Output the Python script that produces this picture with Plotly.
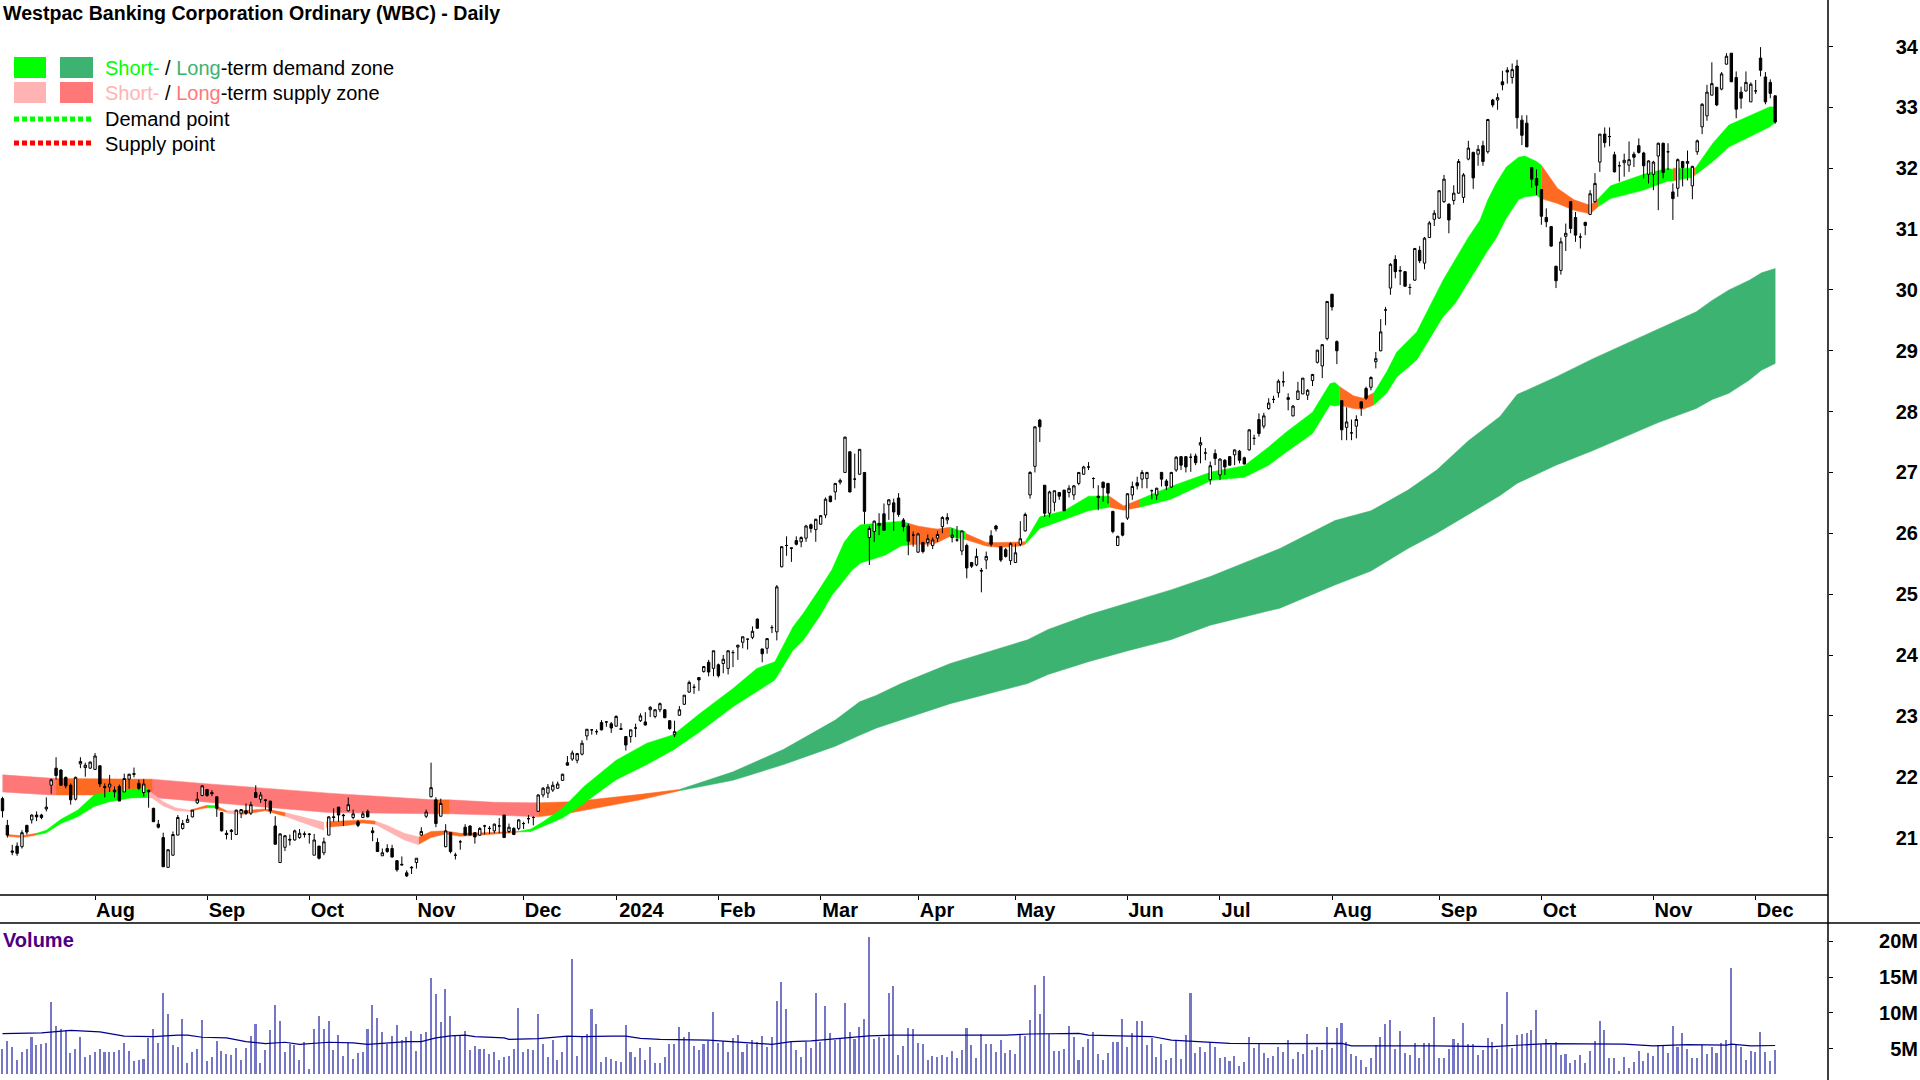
import plotly.graph_objects as go

# ── PRICE DATA (open, high, low, close) ───────────────────────────────────────
candles_jul_oct_23 = [
    (21.64,21.67,21.33,21.44),(21.2,21.29,21.0,21.04),(20.78,20.88,20.71,20.76),(20.86,20.92,20.7,20.74),
    (20.85,21.12,20.82,21.08),(21.2,21.21,21.05,21.09),(21.29,21.38,21.23,21.37),(21.37,21.43,21.27,21.34),
    (21.37,21.39,21.3,21.33),(21.47,21.66,21.43,21.5),(21.86,21.97,21.72,21.95),(22.14,22.32,21.95,22.02),
    (22.11,22.12,21.85,21.86),(21.99,22.0,21.81,21.85),(21.86,21.89,21.54,21.62),(21.63,22.0,21.61,21.99),
    (22.21,22.32,22.14,22.25),(22.15,22.23,22.0,22.19),(22.14,22.25,22.13,22.24),(22.12,22.39,22.11,22.34),
    (22.18,22.18,21.83,21.88),(21.84,21.89,21.66,21.82),(21.83,22.03,21.75,21.88),(21.78,21.84,21.66,21.75),
    (21.84,21.87,21.6,21.6),(21.75,22.05,21.75,21.97),(21.96,22.05,21.8,22.04),(22.05,22.15,21.99,22.04),
    (21.89,21.95,21.78,21.81),(21.74,21.96,21.67,21.88),(21.78,21.78,21.49,21.75),(21.48,21.49,21.26,21.26),
    (21.22,21.29,21.15,21.17),(21.0,21.08,20.52,20.52),(20.51,20.8,20.51,20.8),(20.71,21.1,20.7,21.05),
    (21.04,21.37,21.04,21.33),(21.15,21.29,21.13,21.23),(21.25,21.37,21.24,21.3),(21.34,21.45,21.33,21.45),
    (21.57,21.75,21.55,21.63),(21.69,21.86,21.68,21.85),(21.79,21.79,21.67,21.69),(21.74,21.78,21.68,21.72),
    (21.67,21.67,21.34,21.48),(21.41,21.41,21.1,21.11),(21.07,21.12,20.97,21.05),(21.12,21.14,20.96,21.1),
    (21.05,21.46,21.05,21.45),(21.4,21.47,21.32,21.46),(21.44,21.56,21.37,21.4),(21.4,21.59,21.37,21.54),
    (21.74,21.86,21.66,21.66),(21.63,21.75,21.57,21.7),(21.62,21.63,21.46,21.61),(21.6,21.6,21.39,21.44),
    (21.19,21.35,20.89,20.89),(20.59,21.07,20.59,21.06),(20.84,21.04,20.78,21.03),(20.97,21.05,20.87,20.96),
    (20.96,21.13,20.95,21.11),(21.0,21.14,20.98,21.07),(21.05,21.1,21.0,21.06),(21.06,21.07,20.9,21.05),
    (20.71,21.06,20.71,20.96),(20.86,20.86,20.64,20.66),(20.75,21.0,20.71,20.93),(21.04,21.35,21.04,21.34),
    (21.34,21.48,21.26,21.33),(21.5,21.5,21.26,21.37),(21.37,21.39,21.19,21.36),(21.44,21.66,21.43,21.54),
    (21.33,21.46,21.3,21.39),(21.26,21.29,21.17,21.2),(21.33,21.43,21.32,21.39),(21.43,21.46,21.33,21.34),
    (21.11,21.17,20.94,21.08),(20.92,20.99,20.77,20.77),(20.7,20.82,20.7,20.75),(20.82,20.89,20.75,20.77),
    (20.82,20.88,20.67,20.68),(20.62,20.63,20.44,20.47),(20.56,20.69,20.55,20.55),(20.42,20.46,20.35,20.37),
]
candles_nov_23_feb_24 = [
    (20.5,20.53,20.4,20.51),(20.59,20.66,20.49,20.66),(21.04,21.17,21.03,21.1),(21.35,21.46,21.32,21.42),
    (21.67,22.23,21.66,21.82),(21.62,21.66,21.17,21.23),(21.35,21.64,21.35,21.56),(20.85,21.22,20.84,21.11),
    (21.08,21.08,20.74,20.77),(20.71,20.75,20.64,20.71),(20.93,20.96,20.8,20.93),(21.17,21.22,21.04,21.04),
    (21.19,21.2,21.04,21.04),(21.08,21.08,20.9,21.01),(21.04,21.17,21.03,21.15),(21.19,21.21,21.05,21.19),
    (21.15,21.19,21.06,21.15),(21.11,21.23,21.07,21.22),(21.19,21.32,21.07,21.19),(21.37,21.37,21.0,21.0),
    (21.1,21.23,21.07,21.17),(21.15,21.17,21.04,21.05),(21.15,21.3,21.12,21.29),(21.23,21.26,21.14,21.23),
    (21.31,21.37,21.23,21.31),(21.33,21.35,21.2,21.33),(21.43,21.71,21.42,21.7),(21.7,21.83,21.66,21.81),
    (21.73,21.88,21.65,21.83),(21.78,21.92,21.75,21.86),(21.81,21.92,21.8,21.88),(21.94,22.05,21.93,22.04),
    (22.23,22.34,22.18,22.19),(22.29,22.43,22.26,22.39),(22.27,22.39,22.22,22.38),(22.37,22.6,22.35,22.55),
    (22.67,22.78,22.6,22.78),(22.77,22.78,22.69,22.77),(22.74,22.78,22.69,22.74),(22.89,22.93,22.76,22.77),
    (22.9,22.91,22.82,22.9),(22.87,22.9,22.72,22.8),(22.83,23.01,22.82,22.99),(22.79,22.88,22.77,22.78),
    (22.66,22.66,22.43,22.52),(22.66,22.77,22.56,22.77),(22.8,22.87,22.65,22.8),(22.92,23.04,22.9,23.0),
    (22.9,23.06,22.84,22.85),(23.1,23.16,22.98,23.14),(22.99,23.11,22.96,23.1),(23.1,23.22,23.06,23.2),
    (23.1,23.11,22.96,22.97),(22.92,22.93,22.77,22.79),(22.69,22.92,22.65,22.74),(23.01,23.16,23.0,23.1),
    (23.19,23.34,23.18,23.34),(23.39,23.58,23.38,23.55),(23.47,23.52,23.36,23.47),(23.63,23.63,23.41,23.59),
    (23.73,23.82,23.71,23.81),(23.88,23.92,23.65,23.72),(23.78,24.07,23.65,24.07),(23.84,23.86,23.63,23.66),
    (23.86,24.0,23.7,23.93),(23.78,24.07,23.68,24.07),(24.04,24.08,23.8,24.04),(24.13,24.17,23.92,24.16),
    (24.21,24.3,24.11,24.3),(24.26,24.27,24.09,24.26),(24.29,24.47,24.26,24.39),(24.59,24.6,24.43,24.44),
    (24.1,24.1,23.88,24.02),(24.11,24.27,24.02,24.27),(24.45,24.49,24.36,24.45),(24.38,25.15,24.24,25.12),
]
candles_mar_jun_24 = [
    (25.45,25.79,25.44,25.78),(25.8,25.95,25.63,25.8),(25.75,25.76,25.53,25.76),(25.88,25.95,25.8,25.82),
    (25.86,25.95,25.77,25.93),(25.92,26.14,25.86,26.12),(26.14,26.16,26.01,26.08),(26.06,26.24,25.86,26.23),
    (26.15,26.3,26.14,26.29),(26.3,26.59,26.25,26.56),(26.61,26.62,26.51,26.52),(26.68,26.82,26.55,26.82),
    (26.84,26.9,26.8,26.87),(27.0,27.59,27.0,27.58),(27.34,27.34,26.67,26.68),(26.89,27.31,26.74,26.89),
    (26.97,27.38,26.96,27.38),(27.0,27.0,26.15,26.36),(25.93,26.12,25.48,26.08),(26.03,26.21,25.86,26.2),
    (26.16,26.33,25.97,26.13),(26.32,26.49,26.04,26.05),(26.47,26.56,26.22,26.55),(26.5,26.57,26.04,26.35),
    (26.58,26.66,26.27,26.31),(26.22,26.25,26.03,26.11),(26.12,26.16,25.64,25.87),(25.97,26.03,25.78,25.97),
    (25.69,26.01,25.68,25.99),(25.85,25.86,25.67,25.7),(25.85,25.98,25.78,25.91),(25.8,25.93,25.74,25.89),
    (25.92,26.04,25.86,25.98),(26.11,26.28,26.0,26.26),(26.22,26.33,26.15,26.26),(25.93,26.08,25.85,25.97),
    (25.89,26.12,25.86,25.89),(25.71,26.04,25.64,26.04),(25.8,25.83,25.26,25.43),(25.52,25.53,25.43,25.46),
    (25.48,25.75,25.46,25.62),(25.39,25.43,25.03,25.38),(25.56,25.7,25.41,25.62),(25.96,26.05,25.78,25.82),
    (26.12,26.14,26.03,26.07),(25.78,25.79,25.53,25.56),(25.73,25.76,25.6,25.62),(25.55,25.85,25.48,25.83),
    (25.52,25.83,25.51,25.68),(25.82,26.2,25.79,25.91),(26.04,26.34,26.03,26.31),(26.63,27.02,26.57,27.0),
    (27.1,27.75,27.0,27.75),(27.86,27.88,27.5,27.75),(26.79,26.79,26.27,26.33),(26.33,26.7,26.26,26.68),
    (26.51,26.7,26.36,26.7),(26.67,26.68,26.55,26.61),(26.71,26.71,26.37,26.37),(26.67,26.79,26.59,26.74),
    (26.63,26.79,26.55,26.78),(26.82,27.0,26.79,27.0),(26.97,27.11,26.96,27.09),(27.09,27.17,27.04,27.09),
    (26.9,26.92,26.74,26.9),(26.61,26.79,26.38,26.59),(26.84,26.85,26.52,26.75),(26.82,26.82,26.49,26.66),
    (26.36,26.37,26.0,26.03),(25.8,25.96,25.79,25.95),(26.17,26.17,25.95,25.97),(26.25,26.66,26.22,26.65),
    (26.63,26.85,26.55,26.77),(26.83,26.93,26.72,26.78),(26.89,27.04,26.74,27.0),(26.9,27.01,26.74,27.0),
]
candles_jul_sep_24 = [
    (26.7,26.72,26.56,26.7),(26.63,26.75,26.55,26.74),(27.0,27.01,26.77,26.89),(26.86,26.89,26.71,26.78),
    (26.76,27.01,26.75,27.0),(27.04,27.27,27.01,27.25),(27.26,27.27,27.04,27.12),(27.26,27.27,27.0,27.09),
    (27.25,27.31,27.01,27.25),(27.27,27.31,27.12,27.16),(27.45,27.58,27.15,27.49),(27.32,27.4,27.2,27.32),
    (26.88,27.18,26.8,27.11),(27.31,27.38,27.12,27.23),(26.96,27.23,26.88,27.22),(27.2,27.22,26.96,27.09),
    (27.26,27.27,27.11,27.12),(27.29,27.38,27.12,27.37),(27.35,27.37,27.15,27.2),(27.24,27.26,27.13,27.14),
    (27.37,27.71,27.36,27.7),(27.56,27.62,27.45,27.56),(27.87,27.97,27.59,27.64),(27.76,27.98,27.72,27.93),
    (28.05,28.22,28.03,28.14),(28.2,28.26,28.14,28.2),(28.31,28.53,28.23,28.5),(28.49,28.66,28.41,28.49),
    (28.2,28.3,28.02,28.23),(27.93,28.11,27.92,28.09),(28.2,28.49,28.19,28.34),(28.29,28.55,28.29,28.55),
    (28.27,28.37,28.19,28.35),(28.51,28.62,28.42,28.61),(28.81,29.01,28.79,29.01),(28.75,29.11,28.55,29.1),
    (29.2,29.81,29.17,29.81),(29.93,29.93,29.66,29.72),(29.15,29.17,28.78,29.0),(28.18,28.18,27.53,27.7),
    (27.74,28.07,27.53,27.83),(27.65,27.87,27.53,27.65),(27.76,27.94,27.56,27.87),(28.16,28.16,27.93,28.06),
    (28.38,28.41,28.19,28.22),(28.4,28.58,28.35,28.56),(28.82,28.98,28.71,28.87),(29.0,29.52,28.99,29.31),
    (29.67,29.72,29.42,29.67),(30.03,30.44,29.92,30.42),(30.5,30.57,30.19,30.3),(30.32,30.39,30.08,30.31),
    (30.3,30.31,30.06,30.06),(30.04,30.1,29.92,30.04),(30.16,30.69,30.15,30.68),(30.65,30.72,30.44,30.48),
    (30.44,30.87,30.34,30.85),(30.86,31.13,30.86,31.1),(31.16,31.31,31.05,31.26),(31.18,31.64,31.17,31.63),
    (31.45,31.89,31.43,31.82),(31.41,31.42,30.93,31.15),(31.47,31.72,31.4,31.59),(31.59,32.15,31.58,32.11),
    (31.52,31.92,31.43,31.89),(32.15,32.45,32.13,32.33),(32.26,32.27,31.66,31.84),(32.23,32.38,32.04,32.31),
    (32.37,32.45,32.04,32.11),(32.27,32.81,32.24,32.8),(33.12,33.14,33.0,33.04),(33.12,33.23,32.96,33.16),
    (33.42,33.6,33.28,33.37),(33.61,33.66,33.39,33.58),(33.49,33.72,33.39,33.62),(33.68,33.78,32.65,32.83),
]
candles_oct_dec_24 = [
    (32.79,32.87,32.38,32.54),(32.74,32.87,32.35,32.35),(32.01,32.01,31.68,31.82),(31.83,31.98,31.56,31.72),
    (31.65,31.65,31.07,31.21),(31.19,31.34,31.03,31.12),(31.04,31.05,30.71,30.72),(30.39,30.39,30.03,30.15),
    (30.32,30.86,30.25,30.79),(30.88,31.09,30.64,30.93),(31.45,31.45,30.93,31.01),(31.19,31.28,30.79,30.9),
    (30.87,30.93,30.68,30.87),(31.11,31.12,30.9,31.06),(31.24,31.64,31.23,31.58),(31.45,31.92,31.43,31.75),
    (32.1,32.56,31.94,32.56),(32.56,32.67,32.34,32.42),(32.52,32.67,32.36,32.52),(32.22,32.27,31.93,31.94),
    (32.04,32.11,31.78,32.04),(32.09,32.24,31.86,32.13),(32.05,32.44,31.94,32.14),(32.23,32.27,32.02,32.18),
    (32.37,32.49,32.24,32.26),(32.25,32.27,31.83,32.04),(31.9,32.13,31.75,32.12),(31.9,32.12,31.64,32.1),
    (32.2,32.42,31.31,32.41),(32.41,32.42,31.83,31.93),(32.27,32.41,31.97,32.27),(31.61,31.75,31.15,31.5),
    (31.67,32.16,31.53,32.14),(32.11,32.12,31.7,32.01),(32.08,32.29,31.8,32.11),(31.71,32.04,31.49,32.03),
    (32.27,32.47,32.22,32.45),(32.68,33.07,32.56,33.05),(32.86,33.37,32.78,33.25),(33.2,33.74,33.2,33.39),
    (33.33,33.33,33.02,33.04),(33.3,33.58,33.28,33.55),(33.71,33.89,33.7,33.84),(33.89,33.89,33.42,33.42),
    (33.49,33.59,32.82,32.97),(33.25,33.34,32.98,33.15),(33.27,33.59,33.26,33.41),(33.09,33.41,33.09,33.38),
    (33.27,33.45,33.22,33.27),(33.81,33.99,33.51,33.61),(33.5,33.58,33.05,33.09),(33.41,33.46,33.15,33.23),
    (33.19,33.19,32.73,32.76),
]

# ── VOLUME, in millions ───────────────────────────────────────────────────────
volume_23 = [
    4.9,6.1,5.3,3.4,4.6,4.9,6.6,5.5,5.7,5.8,11.5,8.2,7.8,7.6,4.4,4.9,6.6,3.9,4.1,4.5,4.9,4.5,4.5,4.5,4.8,5.8,4.7,3.3,3.4,3.5,
    6.5,7.7,5.8,12.8,9.8,5.5,5.3,9.1,3.0,4.6,4.9,9.0,3.3,3.9,6.1,4.7,4.3,4.1,5.1,3.4,5.1,6.8,8.5,3.0,4.8,7.6,11.1,8.8,4.5,5.7,
    5.5,3.4,6.0,2.2,7.7,9.5,7.7,8.8,4.8,6.9,4.0,5.8,3.5,4.4,4.6,7.8,11.1,9.3,7.3,5.6,6.8,8.3,6.2,6.6,7.5,4.7,7.0,7.3,14.9,12.6,
    8.7,13.3,9.5,6.9,6.9,7.5,4.8,5.4,4.9,4.9,4.3,4.5,3.4,3.9,4.0,4.9,10.7,4.6,4.9,4.8,9.8,5.6,3.9,6.2,3.4,4.5,6.8,17.5,4.0,6.8,
    7.1,10.5,8.4,3.1,3.8,3.6,3.3,3.2,8.3,4.5,3.9,
]
volume_24a = [
    5.1,3.4,5.2,3.0,2.95,3.8,5.7,5.7,8.0,6.6,7.3,5.4,4.8,5.7,6.1,10.1,5.8,6.1,4.5,6.5,6.9,4.5,5.7,6.2,6.0,6.8,5.2,6.6,11.7,14.3,
    10.5,5.9,4.8,3.8,5.9,5.1,12.8,5.9,11.0,7.2,6.2,6.3,11.4,7.3,6.3,8.0,9.2,20.6,6.3,6.7,6.5,12.8,13.8,4.1,5.4,7.9,7.7,5.8,5.7,3.4,
    4.0,3.8,4.1,3.8,4.7,3.7,4.8,7.9,5.5,3.7,7.0,5.7,5.7,4.5,6.2,4.4,4.8,4.3,6.9,6.8,9.0,13.9,9.9,15.2,7.1,4.7,4.7,5.0,8.2,6.6,
    3.4,5.2,6.3,7.3,4.3,3.4,4.4,5.9,5.9,9.2,5.2,7.2,8.9,8.9,5.5,6.5,3.8,5.7,3.4,3.7,6.1,3.6,6.9,12.8,4.4,5.2,4.5,5.9,5.2,3.7,
    3.8,3.3,4.0,2.6,3.1,6.6,5.1,5.7,4.4,3.7,4.0,5.2,
]
volume_24b = [
    4.5,6.2,3.6,4.5,4.3,7.0,4.8,5.2,4.8,8.0,5.1,7.9,8.6,5.9,4.3,4.0,3.4,2.4,3.7,5.5,6.6,8.4,9.0,5.0,7.5,4.4,4.1,5.8,3.7,5.8,
    5.8,9.4,3.7,3.7,5.0,6.3,5.8,8.6,5.7,5.7,4.1,4.8,6.5,5.9,5.0,8.4,12.9,5.1,6.9,7.0,7.2,7.6,10.4,5.7,6.3,5.5,5.9,4.1,4.3,3.0,
    3.4,4.1,3.0,4.7,6.1,8.9,7.6,3.7,3.7,1.9,3.8,2.3,3.1,4.7,3.3,4.4,4.0,5.5,5.5,4.4,8.2,5.2,7.2,5.0,3.7,3.7,5.5,4.3,5.2,4.4,
    5.8,6.2,16.3,5.7,5.2,3.4,4.7,4.5,7.3,4.5,3.3,4.8,
]
vol_avg_x = [0,5,8,14,20,25,31,36,38,41,46,50,54,58,61,67,72,75,83,86,89,92,95,97,103,104,107,110,116,119,125,128,131,
             135,145,158,162,166,178,183,206,211,221,223,236,240,252,262,275,277,294,306,317,333,339,346,354,355,359,364]
vol_avg = [7.1,7.15,7.2,7.55,7.35,6.75,6.7,6.9,6.9,6.6,6.5,6.0,5.7,5.9,5.6,5.9,5.8,5.6,6.0,6.0,6.5,6.8,6.9,6.7,6.5,6.3,6.4,6.4,6.75,6.7,6.75,6.75,6.45,
           6.3,6.2,5.6,6.0,6.1,6.8,6.9,6.9,7.05,7.15,6.9,6.7,6.2,5.75,5.7,5.75,5.4,5.4,5.3,5.7,5.65,5.4,5.56,5.5,5.65,5.4,5.45]

# ── ZONES: (x, top, bottom) ───────────────────────────────────────────────────
long_supply = [
    ([0,10,11], [22.03,21.98,21.97], [21.75,21.7,21.7]),
    ([30.7,41,67,88.4], [21.96,21.89,21.73,21.62], [21.66,21.59,21.41,21.39]),
    ([91.7,101,110], [21.62,21.58,21.57], [21.39,21.37,21.34]),
]
long_mixed = [
    ([11,20,30.7], [21.97,21.97,21.96], [21.7,21.7,21.66]),
    ([88.4,91.7], [21.62,21.62], [21.39,21.39]),
    ([110,117,131,139], [21.57,21.59,21.71,21.79], [21.34,21.41,21.62,21.77]),
]
long_demand = [
    ([139,150,160.4,171,176,179.5,184.5,194.6,210.5,214.7,223,231.5,239.9,248,262.3,273.6,281,288.6,294.5,301,307.5,311,319,326.6,340,347.8,351.1,354.5,358.7,361.2,364],
     [21.79,22.08,22.45,22.93,23.23,23.34,23.53,23.86,24.25,24.42,24.66,24.86,25.07,25.29,25.75,26.21,26.37,26.71,27.04,27.52,27.92,28.28,28.57,28.87,29.36,29.64,29.83,30.0,30.16,30.28,30.35],
     [21.77,21.94,22.2,22.5,22.68,22.8,22.93,23.2,23.53,23.68,23.89,24.08,24.25,24.49,24.77,25.15,25.38,25.75,26.0,26.31,26.62,26.82,27.12,27.36,27.82,28.05,28.2,28.3,28.52,28.68,28.79]),
]
short_demand = [
    ([7,9,12,15.4,18.8,22,26.3,29.7], [21.07,21.12,21.3,21.45,21.7,21.75,21.79,21.81], [21.04,21.08,21.23,21.34,21.51,21.59,21.65,21.66]),
    ([42,44], [21.53,21.52], [21.49,21.49]),
    ([106,108.5,111,115,119.4,121.3,126,132.3,137.75,143.2,150,154.9,158.6,162.3,164.4,167.9,170.3,172.8,174.5,176.2,181.2,184.5,186.2],
     [21.1,21.14,21.26,21.48,21.84,21.96,22.27,22.55,22.69,23.04,23.45,23.78,23.89,24.46,24.68,25.1,25.4,25.85,26.03,26.14,26.17,26.2,26.16],
     [21.09,21.1,21.19,21.32,21.56,21.68,21.95,22.2,22.44,22.74,23.15,23.4,23.59,24.08,24.24,24.65,24.98,25.23,25.4,25.51,25.64,25.79,25.81]),
    ([194.6,196.3,197.7], [26.1,26.05,26.03], [25.95,25.92,25.9]),
    ([210,213,218,223,227.3], [25.86,26.27,26.37,26.61,26.61], [25.82,26.08,26.22,26.37,26.43]),
    ([233.6,239.9,248.3,255,260,263.7,269,272.6,273.6,274.6],
     [26.56,26.77,27.01,27.11,27.42,27.67,27.99,28.46,28.48,28.41],
     [26.43,26.56,26.87,26.92,27.12,27.34,27.64,28.11,28.09,28.11]),
    ([281.6,284.2,286.3,290.4,295.8,298.3,300.9,303.4,305,306.7,308.8,311.3,312.6,315,316],
     [28.31,28.65,28.98,29.31,30.16,30.49,30.85,31.15,31.48,31.75,32.02,32.18,32.2,32.11,32.05],
     [28.11,28.3,28.57,28.85,29.56,29.78,30.11,30.44,30.65,30.85,31.18,31.48,31.53,31.55,31.5]),
    ([327.7,330.2,337,342,343], [31.5,31.71,31.9,32.0,31.98], [31.37,31.5,31.64,31.79,31.79]),
    ([343.8,347], [32.0,32.0], [31.8,31.85]),
    ([347.6,351.2,354.5,358.7,362.9,364], [32.0,32.41,32.71,32.86,33.01,33.0], [31.89,32.11,32.35,32.52,32.68,32.75]),
]
short_supply = [
    ([29.7,30.7,33,35.5,38.5], [21.81,21.73,21.59,21.49,21.45], [21.66,21.65,21.52,21.44,21.43]),
    ([46,49], [21.44,21.44], [21.4,21.38]),
    ([58,62,66], [21.41,21.33,21.25], [21.35,21.23,21.12]),
    ([76.5,79,82.5,85.5], [21.27,21.2,21.07,21.01], [21.22,21.11,20.96,20.88]),
]
short_mixed = [
    ([1,4,7], [21.05,21.03,21.07], [21.02,21.0,21.04]),
    ([38.5,40.5,42], [21.45,21.49,21.53], [21.43,21.47,21.49]),
    ([44,46], [21.52,21.44], [21.46,21.42]),
    ([49,54], [21.44,21.47], [21.38,21.44]),
    ([54,58], [21.47,21.41], [21.44,21.35]),
    ([66.5,70.8,74,76.5], [21.26,21.28,21.29,21.27], [21.17,21.2,21.24,21.22]),
    ([85.5,88,91,94,98.5,106], [21.01,21.1,21.11,21.07,21.08,21.1], [20.89,21.0,21.06,21.02,21.04,21.09]),
    ([186.2,187.9,191,192,194.6], [26.16,26.12,26.08,26.07,26.1], [25.81,25.82,25.82,25.85,25.95]),
    ([197.7,202,204.7,208.9,210], [26.0,25.85,25.85,25.85,25.86], [25.9,25.79,25.77,25.79,25.82]),
    ([227.3,230.2,233.6], [26.61,26.45,26.56], [26.43,26.38,26.43]),
    ([274.6,277.4,279.4,281.6], [28.41,28.26,28.22,28.31], [28.11,28.05,28.04,28.11]),
    ([316,319.3,322.7,326,327.7], [32.05,31.67,31.48,31.39,31.5], [31.5,31.42,31.31,31.25,31.37]),
    ([343,343.8], [32.0,32.0], [31.79,31.8]),
    ([347,347.6], [32.02,32.0], [31.85,31.89]),
]

# ── AXES ──────────────────────────────────────────────────────────────────────
price_ticks = list(range(21, 35))
volume_ticks = [5, 10, 15, 20]
volume_labels = ["5M", "10M", "15M", "20M"]
month_ticks = [19, 42, 63, 85, 107, 126, 147, 168, 188, 208, 231, 250, 273, 295, 316, 339, 360]
month_labels = ["Aug", "Sep", "Oct", "Nov", "Dec", "2024", "Feb", "Mar", "Apr", "May", "Jun", "Jul", "Aug", "Sep", "Oct", "Nov", "Dec"]
# labels sit to the right of their tick, plotly centres them, so shift by half the text
label_shift = {"Aug": 4.2, "Sep": 4.1, "Oct": 3.7, "Nov": 4.1, "Dec": 4.0, "2024": 5.2, "Feb": 4.0,
               "Mar": 4.0, "Apr": 3.9, "May": 4.2, "Jun": 3.8, "Jul": 3.3}

# ── COLOURS / GEOMETRY ────────────────────────────────────────────────────────
W, H = 1920, 1080
AXIS_X = 1828
PRICE_BOTTOM = 895
VOL_TOP = 923
VOL_BOTTOM = 1074
SHORT_GREEN = "#00FF00"
LONG_GREEN = "#3CB371"
SHORT_PINK = "#FFB3B3"
LONG_PINK = "#FF7878"
ORANGE = "#FF6A22"
FONT = "Liberation Sans"
BAR_COLOR = "#7676C6"

candles = candles_jul_oct_23 + candles_nov_23_feb_24 + candles_mar_jun_24 + candles_jul_sep_24 + candles_oct_dec_24
opens, highs, lows, closes = [list(c) for c in zip(*candles)]
volume = volume_23 + volume_24a + volume_24b


def py(y):
    return 1 - y / H


def px(x):
    return x / W


fig = go.Figure()


def add_zone(segments, color):
    for xs, top, bot in segments:
        fig.add_trace(go.Scatter(
            x=xs + xs[::-1], y=top + bot[::-1],
            fill="toself", fillcolor=color, mode="lines",
            line=dict(color=color, width=0.5),
            hoverinfo="skip", showlegend=False, yaxis="y",
        ))


add_zone(long_supply, LONG_PINK)
add_zone(long_mixed, ORANGE)
add_zone(long_demand, LONG_GREEN)
add_zone(short_supply, SHORT_PINK)
add_zone(short_mixed, ORANGE)
add_zone(short_demand, SHORT_GREEN)

# scatter always paints above boxes on one axis, so the candles get an overlay axis
fig.add_trace(go.Candlestick(
    x=list(range(len(candles))), open=opens, high=highs, low=lows, close=closes,
    increasing=dict(line=dict(color="black", width=1), fillcolor="white"),
    decreasing=dict(line=dict(color="black", width=1), fillcolor="black"),
    whiskerwidth=0, showlegend=False, yaxis="y3",
))

fig.add_trace(go.Bar(
    x=list(range(len(volume))), y=volume, width=0.32,
    marker=dict(color=BAR_COLOR, line=dict(width=0)),
    showlegend=False, yaxis="y2",
))
fig.add_trace(go.Scatter(
    x=vol_avg_x, y=vol_avg, mode="lines", line=dict(color="#00008B", width=1.2),
    showlegend=False, yaxis="y4",
))

price_range = [34 - (PRICE_BOTTOM - 46.5) / 60.85, 34 + 46.5 / 60.85]
vol_range = [5 + (1048.7 - VOL_BOTTOM) / 7.16, 5 + (1048.7 - VOL_TOP) / 7.16]
label_font = dict(family=FONT, size=20, color="black", weight=700)

shapes = [
    dict(type="line", xref="paper", yref="paper", x0=px(AXIS_X), x1=px(AXIS_X), y0=0, y1=1, line=dict(color="black", width=1.5)),
    dict(type="line", xref="paper", yref="paper", x0=0, x1=px(AXIS_X), y0=py(PRICE_BOTTOM), y1=py(PRICE_BOTTOM), line=dict(color="black", width=1.5)),
    dict(type="line", xref="paper", yref="paper", x0=0, x1=1, y0=py(VOL_TOP), y1=py(VOL_TOP), line=dict(color="black", width=1.5)),
]
for x0, x1, y0, y1, color in [
    (14, 46, 57, 78, SHORT_GREEN), (60, 93, 57, 78, LONG_GREEN),
    (14, 46, 82, 103, SHORT_PINK), (60, 93, 82, 103, LONG_PINK),
]:
    shapes.append(dict(type="rect", xref="paper", yref="paper", x0=px(x0), x1=px(x1), y0=py(y0), y1=py(y1),
                       fillcolor=color, line=dict(width=0)))
for y, color in [(119, SHORT_GREEN), (143, "#FF0000")]:
    shapes.append(dict(type="line", xref="paper", yref="paper", x0=px(14), x1=px(93), y0=py(y), y1=py(y),
                       line=dict(color=color, width=5, dash="5px,3px")))

legend_rows = [
    (68, f"<span style='color:{SHORT_GREEN}'>Short-</span> / <span style='color:{LONG_GREEN}'>Long</span>-term demand zone"),
    (93, f"<span style='color:{SHORT_PINK}'>Short-</span> / <span style='color:{LONG_PINK}'>Long</span>-term supply zone"),
    (119, "Demand point"),
    (144, "Supply point"),
]
annotations = [
    dict(text=txt, x=px(103), y=py(y), xref="paper", yref="paper", xanchor="left", yanchor="middle",
         showarrow=False, font=dict(family=FONT, size=20, color="black"))
    for y, txt in legend_rows
]
annotations.append(dict(text="<b>Volume</b>", x=px(1), y=py(940), xref="paper", yref="paper", xanchor="left",
                        yanchor="middle", showarrow=False, font=dict(family=FONT, size=20, color="#4B0082")))

fig.update_layout(
    width=W, height=H, margin=dict(l=0, r=0, t=0, b=0),
    paper_bgcolor="white", plot_bgcolor="white", bargap=0,
    title=dict(text="<b>Westpac Banking Corporation Ordinary (WBC) - Daily</b>", x=px(3), xanchor="left",
               xref="paper", y=py(13), yanchor="middle", font=dict(family=FONT, size=19.6, color="black")),
    xaxis=dict(
        domain=[0, px(AXIS_X)], range=[-0.513, 374.85], anchor="y", showgrid=False, zeroline=False, showline=False,
        tickmode="array", tickvals=[t + label_shift[l] for t, l in zip(month_ticks, month_labels)], ticktext=month_labels,
        ticks="", tickfont=label_font, ticklabelstandoff=1, rangeslider=dict(visible=False),
        minor=dict(tickmode="array", tickvals=month_ticks, ticks="outside", ticklen=4, tickcolor="black", tickwidth=1, showgrid=False),
    ),
    yaxis=dict(
        domain=[py(PRICE_BOTTOM), 1], range=price_range, anchor="free", position=px(1918), side="left",
        tickmode="array", tickvals=price_ticks, showgrid=False, zeroline=False, showline=False, ticks="", tickfont=label_font,
    ),
    yaxis3=dict(
        overlaying="y", range=price_range, anchor="x", side="right", tickmode="array", tickvals=price_ticks,
        showticklabels=False, showgrid=False, zeroline=False, showline=False, ticks="outside", ticklen=4, tickcolor="black",
    ),
    yaxis2=dict(
        domain=[py(VOL_BOTTOM), py(VOL_TOP)], range=vol_range, anchor="free", position=px(1918), side="left",
        tickmode="array", tickvals=volume_ticks, ticktext=volume_labels, showgrid=False, zeroline=False, showline=False,
        ticks="", tickfont=label_font,
    ),
    yaxis4=dict(
        overlaying="y2", range=vol_range, anchor="x", side="right", tickmode="array", tickvals=volume_ticks,
        showticklabels=False, showgrid=False, zeroline=False, showline=False, ticks="outside", ticklen=4, tickcolor="black",
    ),
    shapes=shapes, annotations=annotations,
)

fig.write_html("out.html", config={"displayModeBar": False},
               post_script="document.body.style.margin='0';document.body.style.overflow='hidden';")
